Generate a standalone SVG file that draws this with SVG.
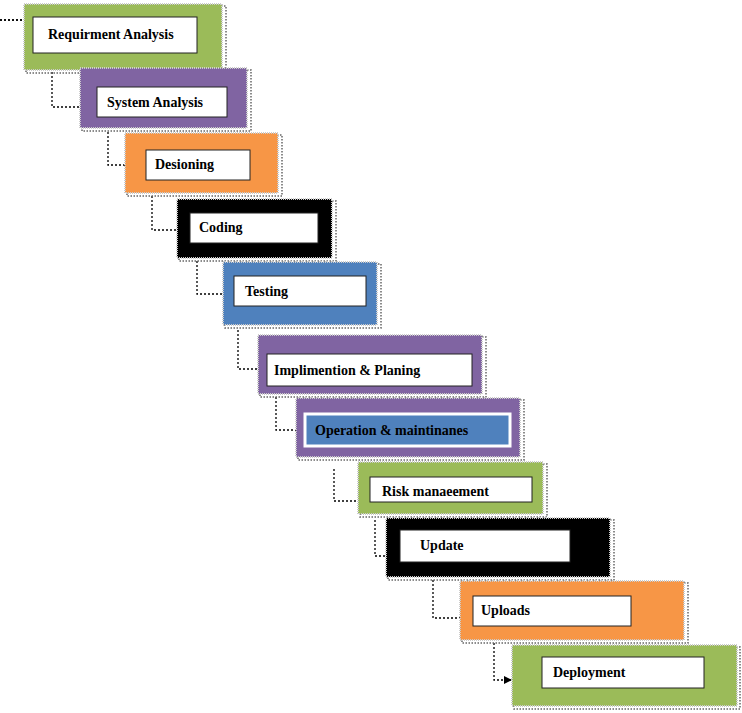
<svg xmlns="http://www.w3.org/2000/svg" width="742" height="713" viewBox="0 0 742 713">
<defs>
<style>
.o{stroke:#ccc;stroke-width:2;stroke-dasharray:1 1}
.sh{fill:none;stroke:#666;stroke-width:1.5;stroke-dasharray:1.5 1.5}
.i{fill:#fff;stroke:#222;stroke-width:1}
.t{font-family:"Liberation Serif",serif;font-weight:bold;font-size:14px;fill:#000}
.c{fill:none;stroke:#000;stroke-width:1.3;stroke-dasharray:2 2}
.g{fill:#9bbb59}.p{fill:#8064a2}.r{fill:#f79646}.k{fill:#000}.b{fill:#4f81bd}
</style>
<marker id="a" markerWidth="8" markerHeight="8" refX="7" refY="4" orient="auto" markerUnits="userSpaceOnUse"><path d="M0,0L8,4L0,8z" fill="#000"/></marker>
</defs>
<g id="connectors">
<path class="c" d="M0,20H30V17" />
<path class="c" d="M0,20H30" />
<path d="M30,20V34" stroke="#000" stroke-width="1.2" marker-end="url(#a)"/>
<path class="c" d="M52,72V107H95" marker-end="url(#a)"/>
<path class="c" d="M108,132V165H144" marker-end="url(#a)"/>
<path class="c" d="M152,196V230H188" marker-end="url(#a)"/>
<path class="c" d="M197,261V294H232" marker-end="url(#a)"/>
<path class="c" d="M238,330V369H265" marker-end="url(#a)"/>
<path class="c" d="M276,397V430H313" marker-end="url(#a)"/>
<path class="c" d="M334,469V501H368" marker-end="url(#a)"/>
<path class="c" d="M375,520V556H398" marker-end="url(#a)"/>
<path class="c" d="M433,580V618H471" marker-end="url(#a)"/>
<path class="c" d="M494,643V680H511" marker-end="url(#a)"/>
</g>
<g id="n1"><rect class="sh" x="26" y="6" width="200" height="67"/><rect class="g o" x="24" y="4" width="198" height="66"/><rect class="i" x="33" y="17" width="164" height="36"/><text class="t" x="48" y="39">Requirment  Analysis</text></g>
<g id="n2"><rect class="sh" x="82" y="70" width="169" height="61"/><rect class="p o" x="80" y="68" width="167" height="60"/><rect class="i" x="97" y="87" width="130" height="30"/><text class="t" x="107" y="107">System  Analysis</text></g>
<g id="n3"><rect class="sh" x="127" y="135" width="155" height="61"/><rect class="r o" x="125" y="133" width="153" height="60"/><rect class="i" x="146" y="150" width="104" height="30"/><text class="t" x="155" y="169">Desioning</text></g>
<g id="n4"><rect class="sh" x="179" y="201" width="157" height="60"/><rect class="k o" x="177" y="199" width="155" height="59"/><rect class="i" x="190" y="213" width="128" height="30"/><text class="t" x="199" y="232">Coding</text></g>
<g id="n5"><rect class="sh" x="225" y="264" width="156" height="64"/><rect class="b o" x="223" y="262" width="154" height="63"/><rect class="i" x="234" y="276" width="132" height="30"/><text class="t" x="245" y="296">Testing</text></g>
<g id="n6"><rect class="sh" x="260" y="337" width="226" height="60"/><rect class="p o" x="258" y="335" width="224" height="59"/><rect class="i" x="267" y="354" width="205" height="32"/><text class="t" x="274" y="375">Implimention  &amp; Planing</text></g>
<g id="n7"><rect class="sh" x="298" y="400" width="226" height="60"/><rect class="p o" x="296" y="398" width="224" height="59"/><rect x="305" y="414" width="205" height="32" fill="#4f81bd" stroke="#fff" stroke-width="3"/><text class="t" x="315" y="435">Operation  &amp; maintinanes</text></g>
<g id="n8"><rect class="sh" x="360" y="464" width="187" height="53"/><rect class="g o" x="358" y="462" width="185" height="52"/><rect class="i" x="370" y="477" width="162" height="25"/><text class="t" x="382" y="496">Risk manaeement</text></g>
<g id="n9"><rect class="sh" x="388" y="520" width="226" height="60"/><rect class="k o" x="386" y="518" width="224" height="59"/><rect class="i" x="400" y="530" width="170" height="32"/><text class="t" x="420" y="550">Update</text></g>
<g id="n10"><rect class="sh" x="462" y="583" width="226" height="60"/><rect class="r o" x="460" y="581" width="224" height="59"/><rect class="i" x="473" y="596" width="158" height="30"/><text class="t" x="481" y="615">Uploads</text></g>
<g id="n11"><rect class="sh" x="514" y="647" width="226" height="62"/><rect class="g o" x="512" y="645" width="225" height="61"/><rect class="i" x="542" y="657" width="162" height="31"/><text class="t" x="553" y="677">Deployment</text></g>
</svg>
